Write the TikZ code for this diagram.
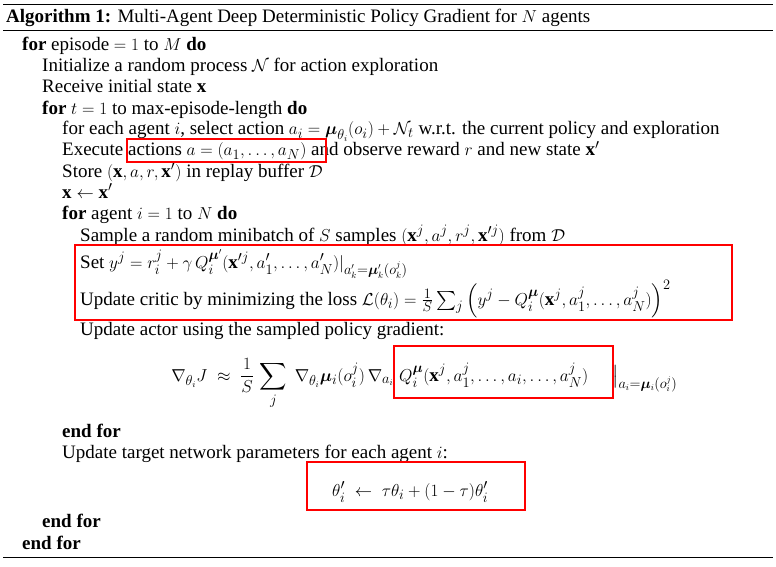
\documentclass[tikz,border=0pt]{standalone}
\usepackage{amsmath,amssymb,bm}
\usepackage{fontspec}
\setmainfont{Liberation Serif}
\tikzset{ln/.style={anchor=base west,inner sep=0pt,font=\fontsize{19}{22}\selectfont},
rb/.style={draw=red,line width=1.3pt}, rule/.style={line width=1pt}}
\begin{document}
\begin{tikzpicture}[x=1pt,y=-1pt]
\useasboundingbox (0,0) rectangle (776,567);
\draw[rule] (3,5) -- (773,5);
\draw[rule,line width=0.6pt] (3,30) -- (773,30);
\draw[rule] (3,557) -- (773,557);
\node[ln] (cap) at (6,23) {\textbf{Algorithm 1:} Multi-Agent Deep Deterministic Policy Gradient for $N$ agents};
\node[ln] (l1) at (22,51) {\textbf{for} episode $=1$ to $M$ \textbf{do}};
\node[ln] (l2) at (42,72) {Initialize a random process $\mathcal{N}$ for action exploration};
\node[ln] (l3) at (42,93) {Receive initial state $\mathbf{x}$};
\node[ln] (l4) at (42,114) {\textbf{for} $t=1$ to max-episode-length \textbf{do}};
\node[ln] (l5) at (62,135) {for each agent $i$, select action $a_i=\bm{\mu}_{\theta_i}(o_i)+\mathcal{N}_t$ w.r.t. the current policy and exploration};
\node[ln] (l6) at (62,156) {Execute actions $a=(a_1,\ldots,a_N)$ and observe reward $r$ and new state $\mathbf{x}'$};
\node[ln] (l7) at (62,177) {Store $(\mathbf{x},a,r,\mathbf{x}')$ in replay buffer $\mathcal{D}$};
\node[ln] (l8) at (62,198) {$\mathbf{x}\leftarrow\mathbf{x}'$};
\node[ln] (l9) at (62,219) {\textbf{for} agent $i=1$ to $N$ \textbf{do}};
\node[ln] (l10) at (80,241) {Sample a random minibatch of $S$ samples $(\mathbf{x}^j,a^j,r^j,\mathbf{x}'^j)$ from $\mathcal{D}$};
\node[ln] (l11) at (80,268) {Set $y^j=r_i^j+\gamma\,Q_i^{\bm{\mu}'}(\mathbf{x}'^j,a_1',\ldots,a_N')|_{a_k'=\bm{\mu}_k'(o_k^j)}$};
\node[ln] (l12) at (80,305) {Update critic by minimizing the loss $\mathcal{L}(\theta_i)=\frac{1}{S}\sum_j\Big(y^j-Q_i^{\bm{\mu}}(\mathbf{x}^j,a_1^j,\ldots,a_N^j)\Big)^2$};
\node[ln] (l13) at (80,335) {Update actor using the sampled policy gradient:};
\node[ln,anchor=base east] (l14a) at (394,381) {$\displaystyle\nabla_{\theta_i}J\;\approx\;\frac{1}{S}\,\sum_j\;\nabla_{\theta_i}\bm{\mu}_i(o_i^j)\,\nabla_{a_i}$};
\node[ln] (l14b) at (399,381) {$\displaystyle Q_i^{\bm{\mu}}(\mathbf{x}^j,a_1^j,\ldots,a_i,\ldots,a_N^j)$};
\node[ln] (l14c) at (612,381) {$\displaystyle\big|_{a_i=\bm{\mu}_i(o_i^j)}$};
\node[ln] (l15) at (62,437) {\textbf{end for}};
\node[ln] (l16) at (62,458) {Update target network parameters for each agent $i$:};
\node[ln] (l17) at (332,496) {$\theta_i'\;\leftarrow\;\tau\theta_i+(1-\tau)\theta_i'$};
\node[ln] (l18) at (42,527) {\textbf{end for}};
\node[ln] (l19) at (22,549) {\textbf{end for}};
\draw[rb] (127,139) rectangle (326,162);
\draw[rb] (75,245) rectangle (732,320);
\draw[rb] (394,346) rectangle (613,398);
\draw[rb] (307,462) rectangle (525,510);
\end{tikzpicture}
\end{document}
